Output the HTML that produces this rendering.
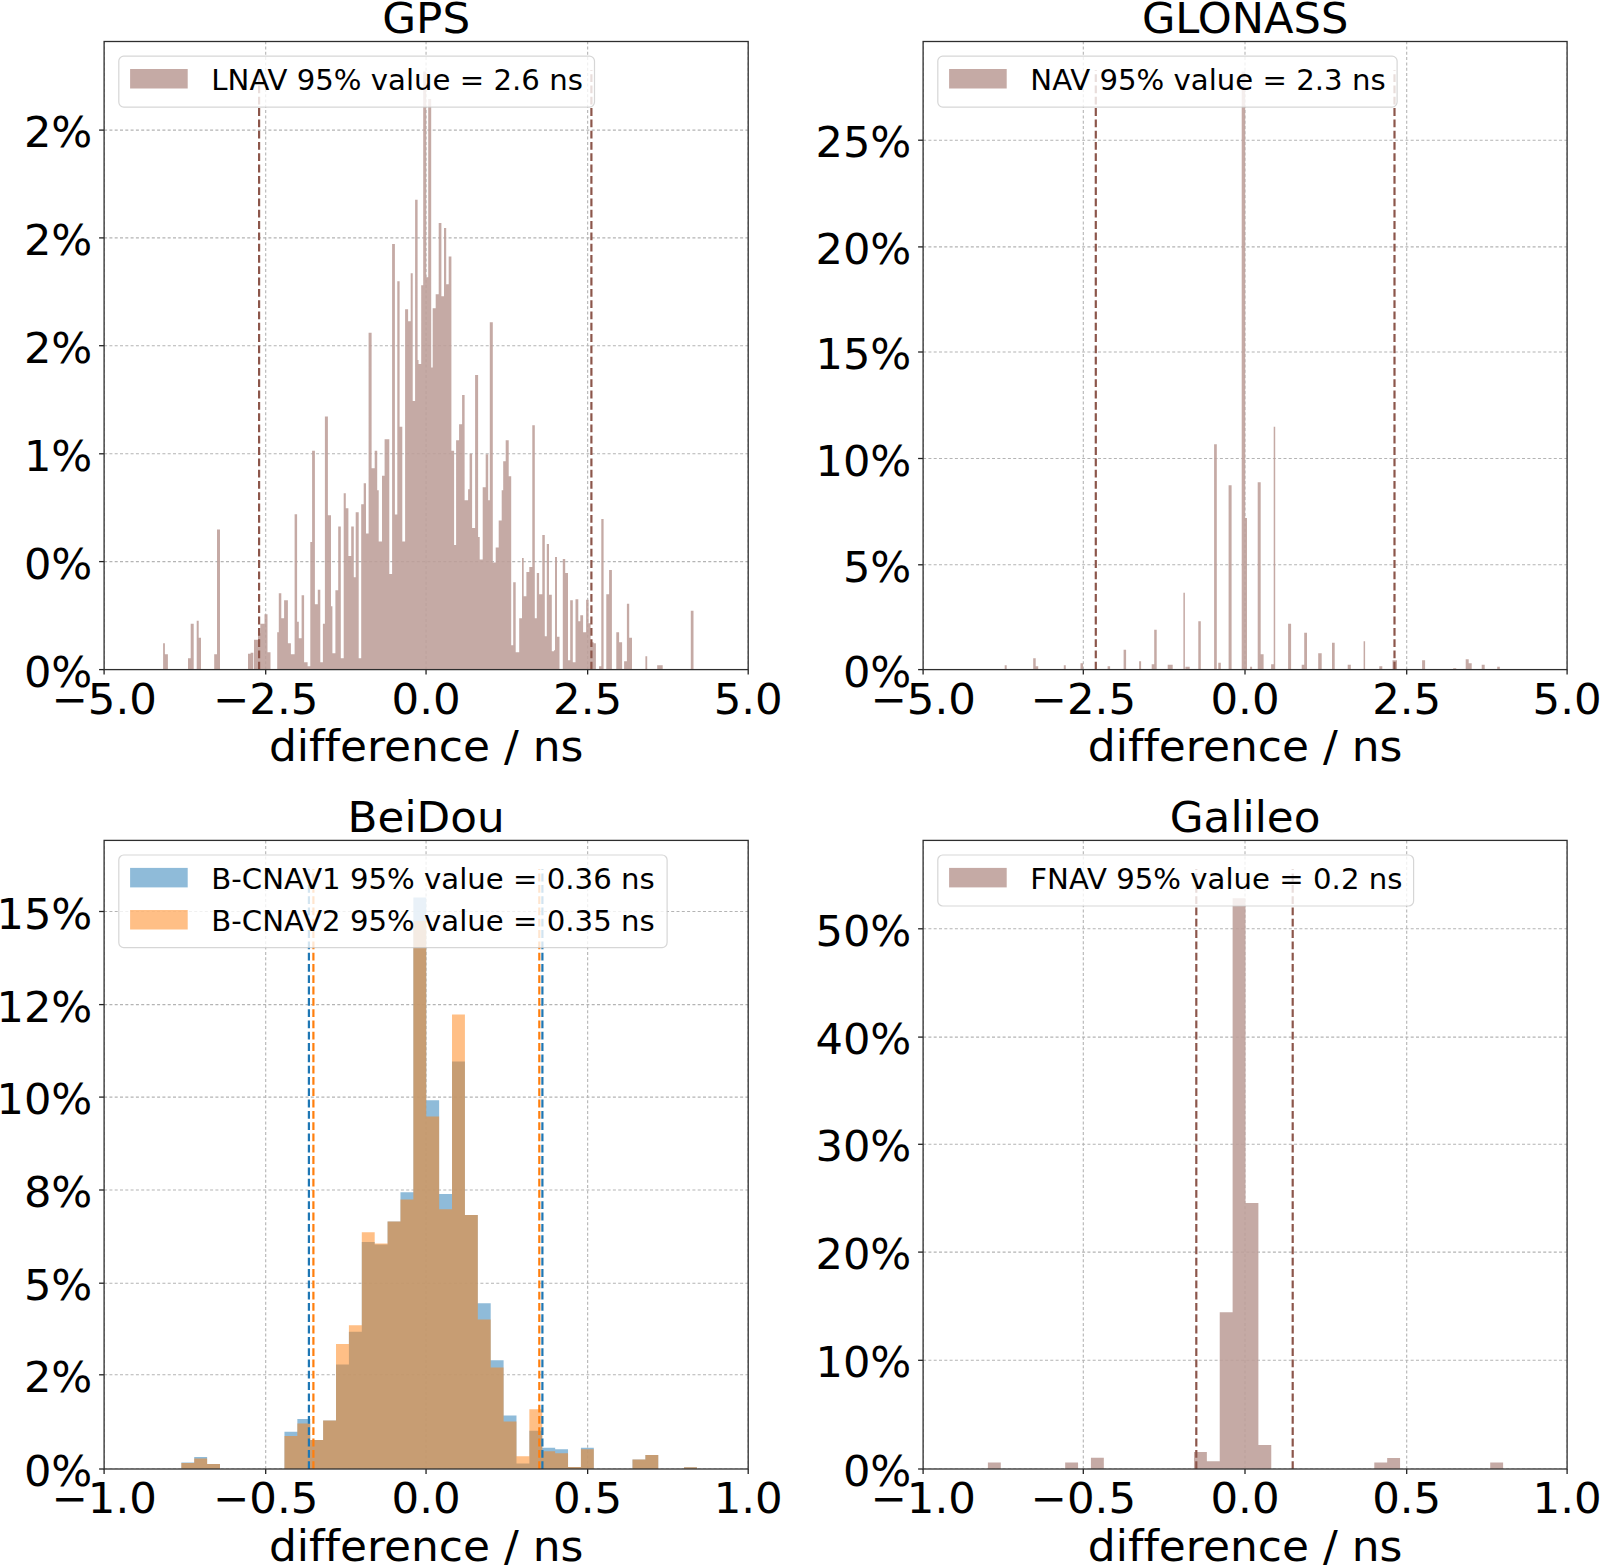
<!DOCTYPE html>
<html lang="en"><head><meta charset="utf-8"><title>Histogram of differences per GNSS</title>
<style>
html,body{margin:0;padding:0;background:#fff;}
svg{display:block;}
text{font-family:"DejaVu Sans", "Liberation Sans", sans-serif;fill:#000;font-variant-ligatures:none;font-feature-settings:"liga" 0,"clig" 0;}
.tl{font-size:42.3px;}
.lt{font-size:28.2px;}
.grid{stroke:#b4b4b4;stroke-width:1.1;stroke-dasharray:3.0 2.3;fill:none;}
.tick{stroke:#222;stroke-width:1.3;}
.spine{fill:none;stroke:#2e2e2e;stroke-width:1.3;}
.vl{stroke-width:2.2;stroke-dasharray:7.8 3.5;fill:none;}
.leg{fill:#fff;fill-opacity:0.8;stroke:#ccc;stroke-opacity:0.8;stroke-width:1.2;}
</style></head>
<body>
<svg width="1600" height="1567" viewBox="0 0 1600 1567">
<rect width="1600" height="1567" fill="#fff"/>
<g id="gps">
<clipPath id="clip-gps"><rect x="104.1" y="41.5" width="644.1" height="628.1"/></clipPath>
<g clip-path="url(#clip-gps)">
<g>
<line x1="104.10" x2="104.10" y1="669.6" y2="41.5" class="grid"/>
<line x1="265.70" x2="265.70" y1="669.6" y2="41.5" class="grid"/>
<line x1="426.05" x2="426.05" y1="669.6" y2="41.5" class="grid"/>
<line x1="587.65" x2="587.65" y1="669.6" y2="41.5" class="grid"/>
<line x1="748.20" x2="748.20" y1="669.6" y2="41.5" class="grid"/>
<line x1="104.1" x2="748.2" y1="669.60" y2="669.60" class="grid"/>
<line x1="104.1" x2="748.2" y1="561.60" y2="561.60" class="grid"/>
<line x1="104.1" x2="748.2" y1="453.80" y2="453.80" class="grid"/>
<line x1="104.1" x2="748.2" y1="345.70" y2="345.70" class="grid"/>
<line x1="104.1" x2="748.2" y1="237.90" y2="237.90" class="grid"/>
<line x1="104.1" x2="748.2" y1="130.10" y2="130.10" class="grid"/>
</g>
<path d="M163.10 669.6V643.26H164.90V669.6ZM164.90 669.6V654.28H167.90V669.6ZM188.00 669.6V658.29H190.70V669.6ZM190.70 669.6V623.72H193.70V669.6ZM196.70 669.6V620.72H198.70V669.6ZM198.70 669.6V637.75H201.00V669.6ZM214.20 669.6V654.28H217.00V669.6ZM217.00 669.6V529.53H220.00V669.6ZM248.00 669.6V653.78H250.60V669.6ZM250.60 669.6V652.78H253.30V669.6ZM254.00 669.6V639.75H258.00V669.6ZM258.00 669.6V633.24H260.30V669.6ZM260.30 669.6V623.72H264.50V669.6ZM264.50 669.6V614.20H267.50V669.6ZM267.50 669.6V652.28H270.50V669.6ZM277.20 669.6V632.24H278.80V669.6ZM278.80 669.6V593.16H281.30V669.6ZM281.30 669.6V618.21H284.10V669.6ZM284.10 669.6V600.17H287.90V669.6ZM287.90 669.6V643.26H290.90V669.6ZM290.90 669.6V654.28H294.60V669.6ZM294.60 669.6V514.31H297.10V669.6ZM297.10 669.6V621.72H298.80V669.6ZM298.80 669.6V638.25H301.60V669.6ZM301.60 669.6V595.16H304.10V669.6ZM304.10 669.6V662.30H307.60V669.6ZM307.60 669.6V666.31H310.30V669.6ZM310.30 669.6V542.06H312.10V669.6ZM312.10 669.6V450.68H314.90V669.6ZM314.90 669.6V604.18H317.80V669.6ZM317.80 669.6V589.65H320.30V669.6ZM320.30 669.6V662.30H322.90V669.6ZM322.90 669.6V623.72H324.90V669.6ZM324.90 669.6V416.61H327.90V669.6ZM327.90 669.6V515.31H331.00V669.6ZM331.00 669.6V606.19H332.40V669.6ZM332.40 669.6V653.28H335.40V669.6ZM335.40 669.6V590.15H338.20V669.6ZM338.20 669.6V526.53H340.80V669.6ZM340.80 669.6V658.29H343.70V669.6ZM343.70 669.6V493.27H345.80V669.6ZM345.80 669.6V508.30H348.40V669.6ZM348.40 669.6V556.09H351.20V669.6ZM351.20 669.6V526.53H353.80V669.6ZM353.80 669.6V577.13H355.70V669.6ZM355.70 669.6V512.30H358.70V669.6ZM358.70 669.6V658.29H361.20V669.6ZM361.20 669.6V504.29H363.70V669.6ZM363.70 669.6V483.25H366.00V669.6ZM366.00 669.6V533.54H368.60V669.6ZM368.60 669.6V332.76H371.60V669.6ZM371.60 669.6V468.22H374.70V669.6ZM374.70 669.6V450.68H377.20V669.6ZM377.20 669.6V490.26H378.70V669.6ZM378.70 669.6V541.56H382.00V669.6ZM382.00 669.6V475.73H384.60V669.6ZM384.60 669.6V439.16H389.30V669.6ZM389.30 669.6V574.12H392.10V669.6ZM392.10 669.6V244.08H394.90V669.6ZM394.90 669.6V514.50H397.30V669.6ZM397.30 669.6V281.16H399.60V669.6ZM399.60 669.6V426.63H402.30V669.6ZM402.30 669.6V541.56H405.10V669.6ZM405.10 669.6V309.21H408.10V669.6ZM408.10 669.6V321.24H410.70V669.6ZM410.70 669.6V273.14H412.70V669.6ZM412.70 669.6V401.08H415.10V669.6ZM415.10 669.6V199.80H417.60V669.6ZM417.60 669.6V360.00H418.50V669.6ZM418.50 669.6V364.01H421.20V669.6ZM421.20 669.6V285.16H423.20V669.6ZM423.20 669.6V71.44H426.20V669.6ZM426.20 669.6V277.15H428.20V669.6ZM428.20 669.6V99.10H431.20V669.6ZM431.20 669.6V367.52H432.70V669.6ZM432.70 669.6V308.21H435.70V669.6ZM435.70 669.6V294.18H438.70V669.6ZM438.70 669.6V223.04H441.40V669.6ZM441.40 669.6V296.19H444.00V669.6ZM444.00 669.6V228.05H446.20V669.6ZM446.20 669.6V284.16H448.70V669.6ZM448.70 669.6V256.61H451.40V669.6ZM451.40 669.6V450.68H454.10V669.6ZM454.10 669.6V545.06H456.10V669.6ZM456.10 669.6V440.16H459.10V669.6ZM459.10 669.6V424.13H462.10V669.6ZM462.10 669.6V395.07H464.60V669.6ZM464.60 669.6V500.28H468.10V669.6ZM468.10 669.6V489.26H469.60V669.6ZM469.60 669.6V453.69H472.10V669.6ZM472.10 669.6V528.03H475.10V669.6ZM475.10 669.6V375.03H478.10V669.6ZM478.10 669.6V537.05H479.70V669.6ZM479.70 669.6V559.59H482.70V669.6ZM482.70 669.6V487.25H485.70V669.6ZM485.70 669.6V454.19H488.20V669.6ZM488.20 669.6V500.28H489.80V669.6ZM489.80 669.6V322.24H492.80V669.6ZM492.80 669.6V562.60H495.70V669.6ZM495.70 669.6V547.57H498.70V669.6ZM498.70 669.6V520.52H501.70V669.6ZM501.70 669.6V490.26H503.20V669.6ZM503.20 669.6V461.20H505.70V669.6ZM505.70 669.6V440.16H508.70V669.6ZM508.70 669.6V476.23H511.20V669.6ZM511.20 669.6V645.26H513.20V669.6ZM513.20 669.6V582.14H515.70V669.6ZM515.70 669.6V652.28H519.20V669.6ZM519.20 669.6V618.21H522.00V669.6ZM522.00 669.6V558.09H523.70V669.6ZM523.70 669.6V596.17H526.40V669.6ZM526.40 669.6V572.12H529.30V669.6ZM529.30 669.6V567.11H532.30V669.6ZM532.30 669.6V425.13H534.80V669.6ZM534.80 669.6V618.21H536.80V669.6ZM536.80 669.6V573.12H539.10V669.6ZM539.10 669.6V594.16H542.30V669.6ZM542.30 669.6V535.04H544.80V669.6ZM544.80 669.6V636.25H546.80V669.6ZM546.80 669.6V544.06H549.00V669.6ZM549.00 669.6V594.66H551.80V669.6ZM551.80 669.6V651.28H554.00V669.6ZM554.00 669.6V650.27H555.00V669.6ZM555.00 669.6V557.09H557.00V669.6ZM557.00 669.6V636.75H559.50V669.6ZM562.80 669.6V559.09H565.20V669.6ZM565.20 669.6V573.12H568.00V669.6ZM568.00 669.6V660.29H570.20V669.6ZM570.20 669.6V600.17H572.80V669.6ZM572.80 669.6V662.30H575.50V669.6ZM575.50 669.6V599.17H578.30V669.6ZM578.30 669.6V621.22H580.30V669.6ZM580.30 669.6V615.20H583.10V669.6ZM583.10 669.6V632.24H586.10V669.6ZM586.10 669.6V599.67H588.60V669.6ZM588.60 669.6V623.22H590.60V669.6ZM590.60 669.6V642.26H593.60V669.6ZM593.60 669.6V643.26H595.90V669.6ZM599.10 669.6V666.31H601.30V669.6ZM601.30 669.6V519.01H603.60V669.6ZM606.30 669.6V594.16H609.10V669.6ZM609.10 669.6V570.11H611.90V669.6ZM616.30 669.6V632.24H619.10V669.6ZM619.10 669.6V642.26H622.10V669.6ZM624.10 669.6V661.30H626.90V669.6ZM626.90 669.6V603.68H629.20V669.6ZM629.20 669.6V637.75H632.00V669.6ZM645.40 669.6V656.29H647.20V669.6ZM657.20 669.6V665.30H662.70V669.6ZM690.80 669.6V610.70H693.50V669.6Z" fill="#fff" fill-opacity="0.75" fill-rule="nonzero"/>
<path d="M163.10 669.6V643.26H164.90V669.6ZM164.90 669.6V654.28H167.90V669.6ZM188.00 669.6V658.29H190.70V669.6ZM190.70 669.6V623.72H193.70V669.6ZM196.70 669.6V620.72H198.70V669.6ZM198.70 669.6V637.75H201.00V669.6ZM214.20 669.6V654.28H217.00V669.6ZM217.00 669.6V529.53H220.00V669.6ZM248.00 669.6V653.78H250.60V669.6ZM250.60 669.6V652.78H253.30V669.6ZM254.00 669.6V639.75H258.00V669.6ZM258.00 669.6V633.24H260.30V669.6ZM260.30 669.6V623.72H264.50V669.6ZM264.50 669.6V614.20H267.50V669.6ZM267.50 669.6V652.28H270.50V669.6ZM277.20 669.6V632.24H278.80V669.6ZM278.80 669.6V593.16H281.30V669.6ZM281.30 669.6V618.21H284.10V669.6ZM284.10 669.6V600.17H287.90V669.6ZM287.90 669.6V643.26H290.90V669.6ZM290.90 669.6V654.28H294.60V669.6ZM294.60 669.6V514.31H297.10V669.6ZM297.10 669.6V621.72H298.80V669.6ZM298.80 669.6V638.25H301.60V669.6ZM301.60 669.6V595.16H304.10V669.6ZM304.10 669.6V662.30H307.60V669.6ZM307.60 669.6V666.31H310.30V669.6ZM310.30 669.6V542.06H312.10V669.6ZM312.10 669.6V450.68H314.90V669.6ZM314.90 669.6V604.18H317.80V669.6ZM317.80 669.6V589.65H320.30V669.6ZM320.30 669.6V662.30H322.90V669.6ZM322.90 669.6V623.72H324.90V669.6ZM324.90 669.6V416.61H327.90V669.6ZM327.90 669.6V515.31H331.00V669.6ZM331.00 669.6V606.19H332.40V669.6ZM332.40 669.6V653.28H335.40V669.6ZM335.40 669.6V590.15H338.20V669.6ZM338.20 669.6V526.53H340.80V669.6ZM340.80 669.6V658.29H343.70V669.6ZM343.70 669.6V493.27H345.80V669.6ZM345.80 669.6V508.30H348.40V669.6ZM348.40 669.6V556.09H351.20V669.6ZM351.20 669.6V526.53H353.80V669.6ZM353.80 669.6V577.13H355.70V669.6ZM355.70 669.6V512.30H358.70V669.6ZM358.70 669.6V658.29H361.20V669.6ZM361.20 669.6V504.29H363.70V669.6ZM363.70 669.6V483.25H366.00V669.6ZM366.00 669.6V533.54H368.60V669.6ZM368.60 669.6V332.76H371.60V669.6ZM371.60 669.6V468.22H374.70V669.6ZM374.70 669.6V450.68H377.20V669.6ZM377.20 669.6V490.26H378.70V669.6ZM378.70 669.6V541.56H382.00V669.6ZM382.00 669.6V475.73H384.60V669.6ZM384.60 669.6V439.16H389.30V669.6ZM389.30 669.6V574.12H392.10V669.6ZM392.10 669.6V244.08H394.90V669.6ZM394.90 669.6V514.50H397.30V669.6ZM397.30 669.6V281.16H399.60V669.6ZM399.60 669.6V426.63H402.30V669.6ZM402.30 669.6V541.56H405.10V669.6ZM405.10 669.6V309.21H408.10V669.6ZM408.10 669.6V321.24H410.70V669.6ZM410.70 669.6V273.14H412.70V669.6ZM412.70 669.6V401.08H415.10V669.6ZM415.10 669.6V199.80H417.60V669.6ZM417.60 669.6V360.00H418.50V669.6ZM418.50 669.6V364.01H421.20V669.6ZM421.20 669.6V285.16H423.20V669.6ZM423.20 669.6V71.44H426.20V669.6ZM426.20 669.6V277.15H428.20V669.6ZM428.20 669.6V99.10H431.20V669.6ZM431.20 669.6V367.52H432.70V669.6ZM432.70 669.6V308.21H435.70V669.6ZM435.70 669.6V294.18H438.70V669.6ZM438.70 669.6V223.04H441.40V669.6ZM441.40 669.6V296.19H444.00V669.6ZM444.00 669.6V228.05H446.20V669.6ZM446.20 669.6V284.16H448.70V669.6ZM448.70 669.6V256.61H451.40V669.6ZM451.40 669.6V450.68H454.10V669.6ZM454.10 669.6V545.06H456.10V669.6ZM456.10 669.6V440.16H459.10V669.6ZM459.10 669.6V424.13H462.10V669.6ZM462.10 669.6V395.07H464.60V669.6ZM464.60 669.6V500.28H468.10V669.6ZM468.10 669.6V489.26H469.60V669.6ZM469.60 669.6V453.69H472.10V669.6ZM472.10 669.6V528.03H475.10V669.6ZM475.10 669.6V375.03H478.10V669.6ZM478.10 669.6V537.05H479.70V669.6ZM479.70 669.6V559.59H482.70V669.6ZM482.70 669.6V487.25H485.70V669.6ZM485.70 669.6V454.19H488.20V669.6ZM488.20 669.6V500.28H489.80V669.6ZM489.80 669.6V322.24H492.80V669.6ZM492.80 669.6V562.60H495.70V669.6ZM495.70 669.6V547.57H498.70V669.6ZM498.70 669.6V520.52H501.70V669.6ZM501.70 669.6V490.26H503.20V669.6ZM503.20 669.6V461.20H505.70V669.6ZM505.70 669.6V440.16H508.70V669.6ZM508.70 669.6V476.23H511.20V669.6ZM511.20 669.6V645.26H513.20V669.6ZM513.20 669.6V582.14H515.70V669.6ZM515.70 669.6V652.28H519.20V669.6ZM519.20 669.6V618.21H522.00V669.6ZM522.00 669.6V558.09H523.70V669.6ZM523.70 669.6V596.17H526.40V669.6ZM526.40 669.6V572.12H529.30V669.6ZM529.30 669.6V567.11H532.30V669.6ZM532.30 669.6V425.13H534.80V669.6ZM534.80 669.6V618.21H536.80V669.6ZM536.80 669.6V573.12H539.10V669.6ZM539.10 669.6V594.16H542.30V669.6ZM542.30 669.6V535.04H544.80V669.6ZM544.80 669.6V636.25H546.80V669.6ZM546.80 669.6V544.06H549.00V669.6ZM549.00 669.6V594.66H551.80V669.6ZM551.80 669.6V651.28H554.00V669.6ZM554.00 669.6V650.27H555.00V669.6ZM555.00 669.6V557.09H557.00V669.6ZM557.00 669.6V636.75H559.50V669.6ZM562.80 669.6V559.09H565.20V669.6ZM565.20 669.6V573.12H568.00V669.6ZM568.00 669.6V660.29H570.20V669.6ZM570.20 669.6V600.17H572.80V669.6ZM572.80 669.6V662.30H575.50V669.6ZM575.50 669.6V599.17H578.30V669.6ZM578.30 669.6V621.22H580.30V669.6ZM580.30 669.6V615.20H583.10V669.6ZM583.10 669.6V632.24H586.10V669.6ZM586.10 669.6V599.67H588.60V669.6ZM588.60 669.6V623.22H590.60V669.6ZM590.60 669.6V642.26H593.60V669.6ZM593.60 669.6V643.26H595.90V669.6ZM599.10 669.6V666.31H601.30V669.6ZM601.30 669.6V519.01H603.60V669.6ZM606.30 669.6V594.16H609.10V669.6ZM609.10 669.6V570.11H611.90V669.6ZM616.30 669.6V632.24H619.10V669.6ZM619.10 669.6V642.26H622.10V669.6ZM624.10 669.6V661.30H626.90V669.6ZM626.90 669.6V603.68H629.20V669.6ZM629.20 669.6V637.75H632.00V669.6ZM645.40 669.6V656.29H647.20V669.6ZM657.20 669.6V665.30H662.70V669.6ZM690.80 669.6V610.70H693.50V669.6Z" fill="#8c564b" fill-opacity="0.5"/>
<g>
<line x1="259.10" x2="259.10" y1="669.6" y2="70.00" stroke="#8c564b" class="vl"/>
<line x1="591.40" x2="591.40" y1="669.6" y2="70.00" stroke="#8c564b" class="vl"/>
</g>
</g>
<line x1="104.10" x2="104.10" y1="669.6" y2="674.6" class="tick"/>
<text transform="translate(104.10 713.90) scale(1.027 1)" class="tl" text-anchor="middle">−5.0</text>
<line x1="265.70" x2="265.70" y1="669.6" y2="674.6" class="tick"/>
<text transform="translate(265.70 713.90) scale(1.027 1)" class="tl" text-anchor="middle">−2.5</text>
<line x1="426.05" x2="426.05" y1="669.6" y2="674.6" class="tick"/>
<text transform="translate(426.05 713.90) scale(1.027 1)" class="tl" text-anchor="middle">0.0</text>
<line x1="587.65" x2="587.65" y1="669.6" y2="674.6" class="tick"/>
<text transform="translate(587.65 713.90) scale(1.027 1)" class="tl" text-anchor="middle">2.5</text>
<line x1="748.20" x2="748.20" y1="669.6" y2="674.6" class="tick"/>
<text transform="translate(748.20 713.90) scale(1.027 1)" class="tl" text-anchor="middle">5.0</text>
<line x1="99.1" x2="104.1" y1="669.60" y2="669.60" class="tick"/>
<text transform="translate(92.30 686.60) scale(1.019 1)" class="tl" text-anchor="end">0%</text>
<line x1="99.1" x2="104.1" y1="561.60" y2="561.60" class="tick"/>
<text transform="translate(92.30 578.60) scale(1.019 1)" class="tl" text-anchor="end">0%</text>
<line x1="99.1" x2="104.1" y1="453.80" y2="453.80" class="tick"/>
<text transform="translate(92.30 470.80) scale(1.019 1)" class="tl" text-anchor="end">1%</text>
<line x1="99.1" x2="104.1" y1="345.70" y2="345.70" class="tick"/>
<text transform="translate(92.30 362.70) scale(1.019 1)" class="tl" text-anchor="end">2%</text>
<line x1="99.1" x2="104.1" y1="237.90" y2="237.90" class="tick"/>
<text transform="translate(92.30 254.90) scale(1.019 1)" class="tl" text-anchor="end">2%</text>
<line x1="99.1" x2="104.1" y1="130.10" y2="130.10" class="tick"/>
<text transform="translate(92.30 147.10) scale(1.019 1)" class="tl" text-anchor="end">2%</text>
<rect x="104.1" y="41.5" width="644.1" height="628.1" class="spine"/>
<text transform="translate(426.15 33.00) scale(1.033 1)" class="tl" text-anchor="middle">GPS</text>
<text transform="translate(426.15 761.30) scale(1.038 1)" class="tl" text-anchor="middle">difference / ns</text>
<rect x="118.80" y="56.10" width="475.7" height="51.0" rx="5" ry="5" class="leg"/>
<rect x="130.1" y="69.0" width="57.6" height="19.5" fill="#8c564b" fill-opacity="0.5"/>
<text transform="translate(211.30 90.30) scale(1.035 1)" class="lt">LNAV 95% value = 2.6 ns</text>
</g>
<g id="glo">
<clipPath id="clip-glo"><rect x="923.1" y="41.5" width="643.9999999999999" height="628.1"/></clipPath>
<g clip-path="url(#clip-glo)">
<g>
<line x1="923.10" x2="923.10" y1="669.6" y2="41.5" class="grid"/>
<line x1="1083.30" x2="1083.30" y1="669.6" y2="41.5" class="grid"/>
<line x1="1245.00" x2="1245.00" y1="669.6" y2="41.5" class="grid"/>
<line x1="1406.70" x2="1406.70" y1="669.6" y2="41.5" class="grid"/>
<line x1="1567.10" x2="1567.10" y1="669.6" y2="41.5" class="grid"/>
<line x1="923.1" x2="1567.1" y1="669.60" y2="669.60" class="grid"/>
<line x1="923.1" x2="1567.1" y1="564.80" y2="564.80" class="grid"/>
<line x1="923.1" x2="1567.1" y1="458.50" y2="458.50" class="grid"/>
<line x1="923.1" x2="1567.1" y1="352.00" y2="352.00" class="grid"/>
<line x1="923.1" x2="1567.1" y1="246.90" y2="246.90" class="grid"/>
<line x1="923.1" x2="1567.1" y1="140.20" y2="140.20" class="grid"/>
</g>
<path d="M1004.70 669.6V665.30H1006.70V669.6ZM1033.20 669.6V658.29H1035.70V669.6ZM1035.70 669.6V666.31H1038.20V669.6ZM1063.80 669.6V665.30H1065.80V669.6ZM1080.50 669.6V663.30H1083.00V669.6ZM1107.60 669.6V666.31H1110.10V669.6ZM1123.60 669.6V649.77H1126.10V669.6ZM1139.10 669.6V661.30H1141.10V669.6ZM1151.70 669.6V664.30H1154.20V669.6ZM1154.20 669.6V629.73H1156.70V669.6ZM1167.70 669.6V664.80H1172.70V669.6ZM1183.40 669.6V592.66H1184.90V669.6ZM1185.40 669.6V666.81H1189.70V669.6ZM1198.30 669.6V621.22H1200.80V669.6ZM1214.10 669.6V444.17H1216.80V669.6ZM1218.30 669.6V662.80H1220.80V669.6ZM1228.60 669.6V485.25H1231.60V669.6ZM1241.70 669.6V71.48H1245.20V669.6ZM1245.20 669.6V518.01H1247.00V669.6ZM1250.10 669.6V666.81H1252.10V669.6ZM1257.70 669.6V482.24H1260.70V669.6ZM1260.70 669.6V654.28H1263.60V669.6ZM1271.10 669.6V664.30H1273.70V669.6ZM1273.70 669.6V426.63H1275.20V669.6ZM1288.10 669.6V623.72H1291.10V669.6ZM1301.70 669.6V664.80H1304.20V669.6ZM1304.20 669.6V632.74H1307.00V669.6ZM1318.20 669.6V653.28H1321.70V669.6ZM1332.00 669.6V642.76H1334.70V669.6ZM1347.70 669.6V664.80H1350.80V669.6ZM1363.60 669.6V641.26H1365.10V669.6ZM1379.30 669.6V666.31H1382.30V669.6ZM1392.50 669.6V660.29H1397.00V669.6ZM1422.10 669.6V660.29H1425.10V669.6ZM1453.20 669.6V668.31H1456.20V669.6ZM1465.70 669.6V659.29H1468.70V669.6ZM1468.70 669.6V663.30H1471.70V669.6ZM1481.70 669.6V664.80H1484.70V669.6ZM1497.20 669.6V666.81H1499.80V669.6Z" fill="#fff" fill-opacity="0.75" fill-rule="nonzero"/>
<path d="M1004.70 669.6V665.30H1006.70V669.6ZM1033.20 669.6V658.29H1035.70V669.6ZM1035.70 669.6V666.31H1038.20V669.6ZM1063.80 669.6V665.30H1065.80V669.6ZM1080.50 669.6V663.30H1083.00V669.6ZM1107.60 669.6V666.31H1110.10V669.6ZM1123.60 669.6V649.77H1126.10V669.6ZM1139.10 669.6V661.30H1141.10V669.6ZM1151.70 669.6V664.30H1154.20V669.6ZM1154.20 669.6V629.73H1156.70V669.6ZM1167.70 669.6V664.80H1172.70V669.6ZM1183.40 669.6V592.66H1184.90V669.6ZM1185.40 669.6V666.81H1189.70V669.6ZM1198.30 669.6V621.22H1200.80V669.6ZM1214.10 669.6V444.17H1216.80V669.6ZM1218.30 669.6V662.80H1220.80V669.6ZM1228.60 669.6V485.25H1231.60V669.6ZM1241.70 669.6V71.48H1245.20V669.6ZM1245.20 669.6V518.01H1247.00V669.6ZM1250.10 669.6V666.81H1252.10V669.6ZM1257.70 669.6V482.24H1260.70V669.6ZM1260.70 669.6V654.28H1263.60V669.6ZM1271.10 669.6V664.30H1273.70V669.6ZM1273.70 669.6V426.63H1275.20V669.6ZM1288.10 669.6V623.72H1291.10V669.6ZM1301.70 669.6V664.80H1304.20V669.6ZM1304.20 669.6V632.74H1307.00V669.6ZM1318.20 669.6V653.28H1321.70V669.6ZM1332.00 669.6V642.76H1334.70V669.6ZM1347.70 669.6V664.80H1350.80V669.6ZM1363.60 669.6V641.26H1365.10V669.6ZM1379.30 669.6V666.31H1382.30V669.6ZM1392.50 669.6V660.29H1397.00V669.6ZM1422.10 669.6V660.29H1425.10V669.6ZM1453.20 669.6V668.31H1456.20V669.6ZM1465.70 669.6V659.29H1468.70V669.6ZM1468.70 669.6V663.30H1471.70V669.6ZM1481.70 669.6V664.80H1484.70V669.6ZM1497.20 669.6V666.81H1499.80V669.6Z" fill="#8c564b" fill-opacity="0.5"/>
<g>
<line x1="1095.80" x2="1095.80" y1="669.6" y2="70.00" stroke="#8c564b" class="vl"/>
<line x1="1394.50" x2="1394.50" y1="669.6" y2="70.00" stroke="#8c564b" class="vl"/>
</g>
</g>
<line x1="923.10" x2="923.10" y1="669.6" y2="674.6" class="tick"/>
<text transform="translate(923.10 713.90) scale(1.027 1)" class="tl" text-anchor="middle">−5.0</text>
<line x1="1083.30" x2="1083.30" y1="669.6" y2="674.6" class="tick"/>
<text transform="translate(1083.30 713.90) scale(1.027 1)" class="tl" text-anchor="middle">−2.5</text>
<line x1="1245.00" x2="1245.00" y1="669.6" y2="674.6" class="tick"/>
<text transform="translate(1245.00 713.90) scale(1.027 1)" class="tl" text-anchor="middle">0.0</text>
<line x1="1406.70" x2="1406.70" y1="669.6" y2="674.6" class="tick"/>
<text transform="translate(1406.70 713.90) scale(1.027 1)" class="tl" text-anchor="middle">2.5</text>
<line x1="1567.10" x2="1567.10" y1="669.6" y2="674.6" class="tick"/>
<text transform="translate(1567.10 713.90) scale(1.027 1)" class="tl" text-anchor="middle">5.0</text>
<line x1="918.1" x2="923.1" y1="669.60" y2="669.60" class="tick"/>
<text transform="translate(911.30 686.60) scale(1.019 1)" class="tl" text-anchor="end">0%</text>
<line x1="918.1" x2="923.1" y1="564.80" y2="564.80" class="tick"/>
<text transform="translate(911.30 581.80) scale(1.019 1)" class="tl" text-anchor="end">5%</text>
<line x1="918.1" x2="923.1" y1="458.50" y2="458.50" class="tick"/>
<text transform="translate(911.30 475.50) scale(1.019 1)" class="tl" text-anchor="end">10%</text>
<line x1="918.1" x2="923.1" y1="352.00" y2="352.00" class="tick"/>
<text transform="translate(911.30 369.00) scale(1.019 1)" class="tl" text-anchor="end">15%</text>
<line x1="918.1" x2="923.1" y1="246.90" y2="246.90" class="tick"/>
<text transform="translate(911.30 263.90) scale(1.019 1)" class="tl" text-anchor="end">20%</text>
<line x1="918.1" x2="923.1" y1="140.20" y2="140.20" class="tick"/>
<text transform="translate(911.30 157.20) scale(1.019 1)" class="tl" text-anchor="end">25%</text>
<rect x="923.1" y="41.5" width="643.9999999999999" height="628.1" class="spine"/>
<text transform="translate(1245.10 33.00) scale(1.02 1)" class="tl" text-anchor="middle">GLONASS</text>
<text transform="translate(1245.10 761.30) scale(1.038 1)" class="tl" text-anchor="middle">difference / ns</text>
<rect x="937.80" y="56.10" width="459.3" height="51.0" rx="5" ry="5" class="leg"/>
<rect x="949.1" y="69.0" width="57.6" height="19.5" fill="#8c564b" fill-opacity="0.5"/>
<text transform="translate(1030.30 90.30) scale(1.035 1)" class="lt">NAV 95% value = 2.3 ns</text>
</g>
<g id="bds">
<clipPath id="clip-bds"><rect x="104.1" y="840.4" width="644.1" height="628.6"/></clipPath>
<g clip-path="url(#clip-bds)">
<g>
<line x1="104.10" x2="104.10" y1="1469.0" y2="840.4" class="grid"/>
<line x1="265.70" x2="265.70" y1="1469.0" y2="840.4" class="grid"/>
<line x1="426.05" x2="426.05" y1="1469.0" y2="840.4" class="grid"/>
<line x1="587.65" x2="587.65" y1="1469.0" y2="840.4" class="grid"/>
<line x1="748.20" x2="748.20" y1="1469.0" y2="840.4" class="grid"/>
<line x1="104.1" x2="748.2" y1="1469.00" y2="1469.00" class="grid"/>
<line x1="104.1" x2="748.2" y1="1374.80" y2="1374.80" class="grid"/>
<line x1="104.1" x2="748.2" y1="1283.20" y2="1283.20" class="grid"/>
<line x1="104.1" x2="748.2" y1="1190.00" y2="1190.00" class="grid"/>
<line x1="104.1" x2="748.2" y1="1097.10" y2="1097.10" class="grid"/>
<line x1="104.1" x2="748.2" y1="1004.60" y2="1004.60" class="grid"/>
<line x1="104.1" x2="748.2" y1="911.50" y2="911.50" class="grid"/>
</g>
<path d="M181.34 1469.0V1462.40H194.23V1469.0ZM194.23 1469.0V1456.90H207.12V1469.0ZM207.12 1469.0V1464.10H220.01V1469.0ZM284.46 1469.0V1431.80H297.35V1469.0ZM297.35 1469.0V1419.10H310.24V1469.0ZM310.24 1469.0V1440.00H323.13V1469.0ZM323.13 1469.0V1420.60H336.02V1469.0ZM336.02 1469.0V1364.40H348.91V1469.0ZM348.91 1469.0V1331.70H361.80V1469.0ZM361.80 1469.0V1241.90H374.69V1469.0ZM374.69 1469.0V1244.50H387.58V1469.0ZM387.58 1469.0V1221.50H400.47V1469.0ZM400.47 1469.0V1192.30H413.36V1469.0ZM413.36 1469.0V897.50H426.25V1469.0ZM426.25 1469.0V1100.20H439.14V1469.0ZM439.14 1469.0V1193.90H452.03V1469.0ZM452.03 1469.0V1061.40H464.92V1469.0ZM464.92 1469.0V1214.90H477.81V1469.0ZM477.81 1469.0V1303.20H490.70V1469.0ZM490.70 1469.0V1360.30H503.59V1469.0ZM503.59 1469.0V1415.50H516.48V1469.0ZM516.48 1469.0V1463.50H529.37V1469.0ZM529.37 1469.0V1430.80H542.26V1469.0ZM542.26 1469.0V1447.70H555.15V1469.0ZM555.15 1469.0V1449.20H568.04V1469.0ZM568.04 1469.0V1467.00H580.93V1469.0ZM580.93 1469.0V1447.70H593.82V1469.0ZM632.49 1469.0V1459.40H645.38V1469.0ZM645.38 1469.0V1454.90H658.27V1469.0ZM684.05 1469.0V1467.20H696.94V1469.0ZM181.34 1469.0V1463.00H194.23V1469.0ZM194.23 1469.0V1458.40H207.12V1469.0ZM207.12 1469.0V1464.10H220.01V1469.0ZM284.46 1469.0V1435.90H297.35V1469.0ZM297.35 1469.0V1423.60H310.24V1469.0ZM310.24 1469.0V1440.00H323.13V1469.0ZM323.13 1469.0V1420.60H336.02V1469.0ZM336.02 1469.0V1344.00H348.91V1469.0ZM348.91 1469.0V1325.20H361.80V1469.0ZM361.80 1469.0V1232.30H374.69V1469.0ZM374.69 1469.0V1243.50H387.58V1469.0ZM387.58 1469.0V1221.50H400.47V1469.0ZM400.47 1469.0V1199.60H413.36V1469.0ZM413.36 1469.0V921.00H426.25V1469.0ZM426.25 1469.0V1116.50H439.14V1469.0ZM439.14 1469.0V1209.20H452.03V1469.0ZM452.03 1469.0V1014.40H464.92V1469.0ZM464.92 1469.0V1214.90H477.81V1469.0ZM477.81 1469.0V1319.50H490.70V1469.0ZM490.70 1469.0V1367.50H503.59V1469.0ZM503.59 1469.0V1421.60H516.48V1469.0ZM516.48 1469.0V1456.30H529.37V1469.0ZM529.37 1469.0V1409.30H542.26V1469.0ZM542.26 1469.0V1451.20H555.15V1469.0ZM555.15 1469.0V1453.20H568.04V1469.0ZM568.04 1469.0V1467.00H580.93V1469.0ZM580.93 1469.0V1449.20H593.82V1469.0ZM632.49 1469.0V1459.40H645.38V1469.0ZM645.38 1469.0V1454.90H658.27V1469.0ZM684.05 1469.0V1467.20H696.94V1469.0Z" fill="#fff" fill-opacity="0.75" fill-rule="nonzero"/>
<path d="M181.34 1469.0V1462.40H194.23V1469.0ZM194.23 1469.0V1456.90H207.12V1469.0ZM207.12 1469.0V1464.10H220.01V1469.0ZM284.46 1469.0V1431.80H297.35V1469.0ZM297.35 1469.0V1419.10H310.24V1469.0ZM310.24 1469.0V1440.00H323.13V1469.0ZM323.13 1469.0V1420.60H336.02V1469.0ZM336.02 1469.0V1364.40H348.91V1469.0ZM348.91 1469.0V1331.70H361.80V1469.0ZM361.80 1469.0V1241.90H374.69V1469.0ZM374.69 1469.0V1244.50H387.58V1469.0ZM387.58 1469.0V1221.50H400.47V1469.0ZM400.47 1469.0V1192.30H413.36V1469.0ZM413.36 1469.0V897.50H426.25V1469.0ZM426.25 1469.0V1100.20H439.14V1469.0ZM439.14 1469.0V1193.90H452.03V1469.0ZM452.03 1469.0V1061.40H464.92V1469.0ZM464.92 1469.0V1214.90H477.81V1469.0ZM477.81 1469.0V1303.20H490.70V1469.0ZM490.70 1469.0V1360.30H503.59V1469.0ZM503.59 1469.0V1415.50H516.48V1469.0ZM516.48 1469.0V1463.50H529.37V1469.0ZM529.37 1469.0V1430.80H542.26V1469.0ZM542.26 1469.0V1447.70H555.15V1469.0ZM555.15 1469.0V1449.20H568.04V1469.0ZM568.04 1469.0V1467.00H580.93V1469.0ZM580.93 1469.0V1447.70H593.82V1469.0ZM632.49 1469.0V1459.40H645.38V1469.0ZM645.38 1469.0V1454.90H658.27V1469.0ZM684.05 1469.0V1467.20H696.94V1469.0Z" fill="#1f77b4" fill-opacity="0.5"/>
<path d="M181.34 1469.0V1463.00H194.23V1469.0ZM194.23 1469.0V1458.40H207.12V1469.0ZM207.12 1469.0V1464.10H220.01V1469.0ZM284.46 1469.0V1435.90H297.35V1469.0ZM297.35 1469.0V1423.60H310.24V1469.0ZM310.24 1469.0V1440.00H323.13V1469.0ZM323.13 1469.0V1420.60H336.02V1469.0ZM336.02 1469.0V1344.00H348.91V1469.0ZM348.91 1469.0V1325.20H361.80V1469.0ZM361.80 1469.0V1232.30H374.69V1469.0ZM374.69 1469.0V1243.50H387.58V1469.0ZM387.58 1469.0V1221.50H400.47V1469.0ZM400.47 1469.0V1199.60H413.36V1469.0ZM413.36 1469.0V921.00H426.25V1469.0ZM426.25 1469.0V1116.50H439.14V1469.0ZM439.14 1469.0V1209.20H452.03V1469.0ZM452.03 1469.0V1014.40H464.92V1469.0ZM464.92 1469.0V1214.90H477.81V1469.0ZM477.81 1469.0V1319.50H490.70V1469.0ZM490.70 1469.0V1367.50H503.59V1469.0ZM503.59 1469.0V1421.60H516.48V1469.0ZM516.48 1469.0V1456.30H529.37V1469.0ZM529.37 1469.0V1409.30H542.26V1469.0ZM542.26 1469.0V1451.20H555.15V1469.0ZM555.15 1469.0V1453.20H568.04V1469.0ZM568.04 1469.0V1467.00H580.93V1469.0ZM580.93 1469.0V1449.20H593.82V1469.0ZM632.49 1469.0V1459.40H645.38V1469.0ZM645.38 1469.0V1454.90H658.27V1469.0ZM684.05 1469.0V1467.20H696.94V1469.0Z" fill="#ff7f0e" fill-opacity="0.5"/>
<g>
<line x1="308.90" x2="308.90" y1="1469.0" y2="868.90" stroke="#1f77b4" class="vl"/>
<line x1="313.40" x2="313.40" y1="1469.0" y2="868.90" stroke="#ff7f0e" class="vl"/>
<line x1="542.40" x2="542.40" y1="1469.0" y2="868.90" stroke="#1f77b4" class="vl"/>
<line x1="539.30" x2="539.30" y1="1469.0" y2="868.90" stroke="#ff7f0e" class="vl"/>
</g>
</g>
<line x1="104.10" x2="104.10" y1="1469.0" y2="1474.0" class="tick"/>
<text transform="translate(104.10 1513.30) scale(1.027 1)" class="tl" text-anchor="middle">−1.0</text>
<line x1="265.70" x2="265.70" y1="1469.0" y2="1474.0" class="tick"/>
<text transform="translate(265.70 1513.30) scale(1.027 1)" class="tl" text-anchor="middle">−0.5</text>
<line x1="426.05" x2="426.05" y1="1469.0" y2="1474.0" class="tick"/>
<text transform="translate(426.05 1513.30) scale(1.027 1)" class="tl" text-anchor="middle">0.0</text>
<line x1="587.65" x2="587.65" y1="1469.0" y2="1474.0" class="tick"/>
<text transform="translate(587.65 1513.30) scale(1.027 1)" class="tl" text-anchor="middle">0.5</text>
<line x1="748.20" x2="748.20" y1="1469.0" y2="1474.0" class="tick"/>
<text transform="translate(748.20 1513.30) scale(1.027 1)" class="tl" text-anchor="middle">1.0</text>
<line x1="99.1" x2="104.1" y1="1469.00" y2="1469.00" class="tick"/>
<text transform="translate(92.30 1486.00) scale(1.019 1)" class="tl" text-anchor="end">0%</text>
<line x1="99.1" x2="104.1" y1="1374.80" y2="1374.80" class="tick"/>
<text transform="translate(92.30 1391.80) scale(1.019 1)" class="tl" text-anchor="end">2%</text>
<line x1="99.1" x2="104.1" y1="1283.20" y2="1283.20" class="tick"/>
<text transform="translate(92.30 1300.20) scale(1.019 1)" class="tl" text-anchor="end">5%</text>
<line x1="99.1" x2="104.1" y1="1190.00" y2="1190.00" class="tick"/>
<text transform="translate(92.30 1207.00) scale(1.019 1)" class="tl" text-anchor="end">8%</text>
<line x1="99.1" x2="104.1" y1="1097.10" y2="1097.10" class="tick"/>
<text transform="translate(92.30 1114.10) scale(1.019 1)" class="tl" text-anchor="end">10%</text>
<line x1="99.1" x2="104.1" y1="1004.60" y2="1004.60" class="tick"/>
<text transform="translate(92.30 1021.60) scale(1.019 1)" class="tl" text-anchor="end">12%</text>
<line x1="99.1" x2="104.1" y1="911.50" y2="911.50" class="tick"/>
<text transform="translate(92.30 928.50) scale(1.019 1)" class="tl" text-anchor="end">15%</text>
<rect x="104.1" y="840.4" width="644.1" height="628.6" class="spine"/>
<text transform="translate(426.15 831.90) scale(1.033 1)" class="tl" text-anchor="middle">BeiDou</text>
<text transform="translate(426.15 1560.70) scale(1.038 1)" class="tl" text-anchor="middle">difference / ns</text>
<rect x="118.80" y="855.00" width="548.3" height="92.6" rx="5" ry="5" class="leg"/>
<rect x="130.1" y="867.9" width="57.6" height="19.5" fill="#1f77b4" fill-opacity="0.5"/>
<text transform="translate(211.30 889.20) scale(1.035 1)" class="lt">B-CNAV1 95% value = 0.36 ns</text>
<rect x="130.1" y="910.0" width="57.6" height="19.5" fill="#ff7f0e" fill-opacity="0.5"/>
<text transform="translate(211.30 931.30) scale(1.035 1)" class="lt">B-CNAV2 95% value = 0.35 ns</text>
</g>
<g id="gal">
<clipPath id="clip-gal"><rect x="923.1" y="840.4" width="643.9999999999999" height="628.6"/></clipPath>
<g clip-path="url(#clip-gal)">
<g>
<line x1="923.10" x2="923.10" y1="1469.0" y2="840.4" class="grid"/>
<line x1="1083.30" x2="1083.30" y1="1469.0" y2="840.4" class="grid"/>
<line x1="1245.00" x2="1245.00" y1="1469.0" y2="840.4" class="grid"/>
<line x1="1406.70" x2="1406.70" y1="1469.0" y2="840.4" class="grid"/>
<line x1="1567.10" x2="1567.10" y1="1469.0" y2="840.4" class="grid"/>
<line x1="923.1" x2="1567.1" y1="1469.00" y2="1469.00" class="grid"/>
<line x1="923.1" x2="1567.1" y1="1360.30" y2="1360.30" class="grid"/>
<line x1="923.1" x2="1567.1" y1="1252.10" y2="1252.10" class="grid"/>
<line x1="923.1" x2="1567.1" y1="1144.30" y2="1144.30" class="grid"/>
<line x1="923.1" x2="1567.1" y1="1037.10" y2="1037.10" class="grid"/>
<line x1="923.1" x2="1567.1" y1="928.80" y2="928.80" class="grid"/>
</g>
<path d="M987.90 1469.0V1462.40H1000.78V1469.0ZM1065.18 1469.0V1462.40H1078.06V1469.0ZM1090.94 1469.0V1457.80H1103.82V1469.0ZM1193.98 1469.0V1452.00H1206.86V1469.0ZM1206.86 1469.0V1461.20H1219.74V1469.0ZM1219.74 1469.0V1312.30H1232.62V1469.0ZM1232.62 1469.0V898.20H1245.50V1469.0ZM1245.50 1469.0V1203.10H1258.38V1469.0ZM1258.38 1469.0V1445.10H1271.26V1469.0ZM1374.30 1469.0V1462.50H1387.18V1469.0ZM1387.18 1469.0V1458.00H1400.06V1469.0ZM1490.22 1469.0V1462.40H1503.10V1469.0Z" fill="#fff" fill-opacity="0.75" fill-rule="nonzero"/>
<path d="M987.90 1469.0V1462.40H1000.78V1469.0ZM1065.18 1469.0V1462.40H1078.06V1469.0ZM1090.94 1469.0V1457.80H1103.82V1469.0ZM1193.98 1469.0V1452.00H1206.86V1469.0ZM1206.86 1469.0V1461.20H1219.74V1469.0ZM1219.74 1469.0V1312.30H1232.62V1469.0ZM1232.62 1469.0V898.20H1245.50V1469.0ZM1245.50 1469.0V1203.10H1258.38V1469.0ZM1258.38 1469.0V1445.10H1271.26V1469.0ZM1374.30 1469.0V1462.50H1387.18V1469.0ZM1387.18 1469.0V1458.00H1400.06V1469.0ZM1490.22 1469.0V1462.40H1503.10V1469.0Z" fill="#8c564b" fill-opacity="0.5"/>
<g>
<line x1="1196.30" x2="1196.30" y1="1469.0" y2="868.90" stroke="#8c564b" class="vl"/>
<line x1="1292.70" x2="1292.70" y1="1469.0" y2="868.90" stroke="#8c564b" class="vl"/>
</g>
</g>
<line x1="923.10" x2="923.10" y1="1469.0" y2="1474.0" class="tick"/>
<text transform="translate(923.10 1513.30) scale(1.027 1)" class="tl" text-anchor="middle">−1.0</text>
<line x1="1083.30" x2="1083.30" y1="1469.0" y2="1474.0" class="tick"/>
<text transform="translate(1083.30 1513.30) scale(1.027 1)" class="tl" text-anchor="middle">−0.5</text>
<line x1="1245.00" x2="1245.00" y1="1469.0" y2="1474.0" class="tick"/>
<text transform="translate(1245.00 1513.30) scale(1.027 1)" class="tl" text-anchor="middle">0.0</text>
<line x1="1406.70" x2="1406.70" y1="1469.0" y2="1474.0" class="tick"/>
<text transform="translate(1406.70 1513.30) scale(1.027 1)" class="tl" text-anchor="middle">0.5</text>
<line x1="1567.10" x2="1567.10" y1="1469.0" y2="1474.0" class="tick"/>
<text transform="translate(1567.10 1513.30) scale(1.027 1)" class="tl" text-anchor="middle">1.0</text>
<line x1="918.1" x2="923.1" y1="1469.00" y2="1469.00" class="tick"/>
<text transform="translate(911.30 1486.00) scale(1.019 1)" class="tl" text-anchor="end">0%</text>
<line x1="918.1" x2="923.1" y1="1360.30" y2="1360.30" class="tick"/>
<text transform="translate(911.30 1377.30) scale(1.019 1)" class="tl" text-anchor="end">10%</text>
<line x1="918.1" x2="923.1" y1="1252.10" y2="1252.10" class="tick"/>
<text transform="translate(911.30 1269.10) scale(1.019 1)" class="tl" text-anchor="end">20%</text>
<line x1="918.1" x2="923.1" y1="1144.30" y2="1144.30" class="tick"/>
<text transform="translate(911.30 1161.30) scale(1.019 1)" class="tl" text-anchor="end">30%</text>
<line x1="918.1" x2="923.1" y1="1037.10" y2="1037.10" class="tick"/>
<text transform="translate(911.30 1054.10) scale(1.019 1)" class="tl" text-anchor="end">40%</text>
<line x1="918.1" x2="923.1" y1="928.80" y2="928.80" class="tick"/>
<text transform="translate(911.30 945.80) scale(1.019 1)" class="tl" text-anchor="end">50%</text>
<rect x="923.1" y="840.4" width="643.9999999999999" height="628.6" class="spine"/>
<text transform="translate(1245.10 831.90) scale(1.033 1)" class="tl" text-anchor="middle">Galileo</text>
<text transform="translate(1245.10 1560.70) scale(1.038 1)" class="tl" text-anchor="middle">difference / ns</text>
<rect x="937.80" y="855.00" width="475.8" height="51.0" rx="5" ry="5" class="leg"/>
<rect x="949.1" y="867.9" width="57.6" height="19.5" fill="#8c564b" fill-opacity="0.5"/>
<text transform="translate(1030.30 889.20) scale(1.035 1)" class="lt">FNAV 95% value = 0.2 ns</text>
</g>
</svg>
</body></html>
